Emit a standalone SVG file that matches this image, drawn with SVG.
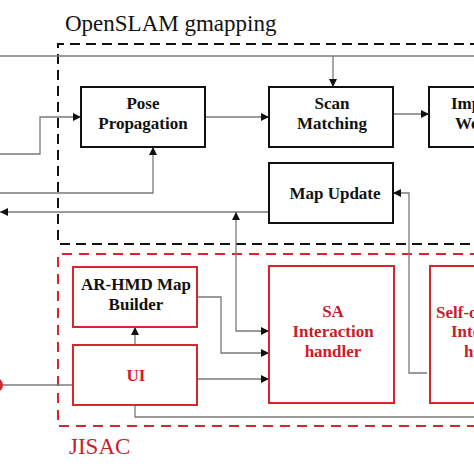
<svg xmlns="http://www.w3.org/2000/svg" width="474" height="474" viewBox="0 0 474 474">
<defs>
<style>
.bx{fill:#fff;stroke:#111;stroke-width:2}
.rbx{fill:#fff;stroke:#d7262e;stroke-width:2}
.t{font-family:"Liberation Serif",serif;font-weight:bold;font-size:17px;fill:#111;text-anchor:middle}
.rt{font-family:"Liberation Serif",serif;font-weight:bold;font-size:17px;fill:#c81e28;text-anchor:middle}
.c{fill:none;stroke:#7a7a7a;stroke-width:1.3}
.title{font-family:"Liberation Serif",serif;font-size:23px}
</style>
<marker id="ah" markerUnits="userSpaceOnUse" markerWidth="10" markerHeight="10" refX="8" refY="4" orient="auto">
<path d="M0,0 L8,4 L0,8 Z" fill="#111"/>
</marker>
<marker id="as" markerUnits="userSpaceOnUse" markerWidth="10" markerHeight="10" refX="0" refY="4" orient="auto">
<path d="M8,0 L0,4 L8,8 Z" fill="#111"/>
</marker>
</defs>
<rect width="474" height="474" fill="#fff"/>
<text class="title" x="65" y="31" fill="#111">OpenSLAM gmapping</text>
<text class="title" x="69" y="454" fill="#c81e28">JISAC</text>
<path d="M480,44 H58 V244 H480" fill="none" stroke="#111" stroke-width="2" stroke-dasharray="10,6"/>
<path d="M480,254 H58 V426 H480" fill="none" stroke="#d7262e" stroke-width="2" stroke-dasharray="10,7"/>
<g id="connectors">
<path class="c" d="M0,56 H474"/>
<path class="c" d="M333,56 V87" marker-end="url(#ah)"/>
<path class="c" d="M0,154 H40 V117 H81" marker-end="url(#ah)"/>
<path class="c" d="M0,193 H153 V147" marker-end="url(#ah)"/>
<path class="c" d="M205,117 H269" marker-end="url(#ah)"/>
<path class="c" d="M393,114 H429" marker-end="url(#ah)"/>
<path class="c" d="M269,212 H0" marker-end="url(#ah)"/>
<path class="c" d="M236,212 V331 H269" marker-start="url(#as)" marker-end="url(#ah)"/>
<path class="c" d="M427,373 H409 V193 H393" marker-end="url(#ah)"/>
<path class="c" d="M135,345 V327" marker-end="url(#ah)"/>
<path class="c" d="M197,297 H221 V353 H269" marker-end="url(#ah)"/>
<path class="c" d="M197,379 H269" marker-end="url(#ah)"/>
<path class="c" d="M0,385 H73"/>
<path class="c" d="M135,405 V417 H474"/>
<ellipse cx="-4" cy="385" rx="7" ry="7" fill="#d7262e"/>
</g>
<g id="pose">
<rect class="bx" x="81" y="87" width="124" height="60"/>
<text class="t" x="143" y="109">Pose</text>
<text class="t" x="143" y="129">Propagation</text>
</g>
<g id="scan">
<rect class="bx" x="269" y="87" width="124" height="60"/>
<text class="t" x="332" y="109">Scan</text>
<text class="t" x="332" y="129">Matching</text>
</g>
<g id="importance">
<rect class="bx" x="429" y="87" width="124" height="60"/>
<text class="t" x="451" y="109" style="text-anchor:start">Importance</text>
<text class="t" x="455" y="129" style="text-anchor:start">Weighting</text>
</g>
<g id="mapupdate">
<rect class="bx" x="269" y="163" width="124" height="60"/>
<text class="t" x="335" y="199">Map Update</text>
</g>
<g id="arhmd">
<rect class="rbx" x="73" y="267" width="124" height="60"/>
<text class="t" x="136" y="290">AR-HMD Map</text>
<text class="t" x="136" y="310">Builder</text>
</g>
<g id="ui">
<rect class="rbx" x="73" y="345" width="124" height="60"/>
<text class="rt" x="136" y="381">UI</text>
</g>
<g id="sa">
<rect class="rbx" x="269" y="266" width="125" height="137"/>
<text class="rt" x="333" y="317">SA</text>
<text class="rt" x="333" y="337">Interaction</text>
<text class="rt" x="333" y="357">handler</text>
</g>
<g id="self">
<rect class="rbx" x="430" y="266" width="125" height="137"/>
<text class="rt" x="436" y="318" style="text-anchor:start">Self-organized</text>
<text class="rt" x="451" y="337" style="text-anchor:start">Interaction</text>
<text class="rt" x="464" y="357" style="text-anchor:start">handler</text>
</g>
</svg>
